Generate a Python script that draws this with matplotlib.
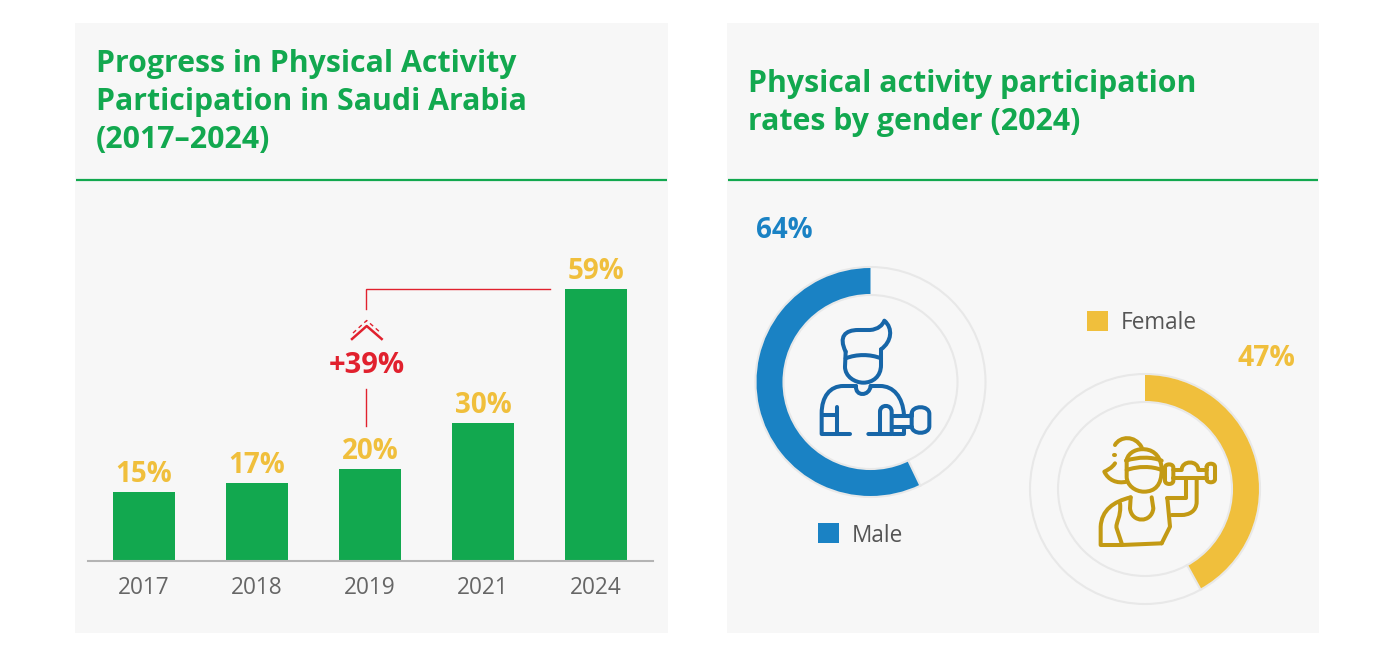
import math

import matplotlib
matplotlib.use("Agg")
from matplotlib import pyplot as plt
from matplotlib.patches import Rectangle, Circle, PathPatch
from matplotlib.path import Path

plt.rcParams['font.family'] = ['Open Sans', 'DejaVu Sans']

years = ['2017', '2018', '2019', '2021', '2024']
participation = [15, 17, 20, 30, 59]
increase_label = '+39%'

genders = ['Male', 'Female']
gender_rates = [64, 47]
ring_full_scale = 112

title_left = ['Progress in Physical Activity', 'Participation in Saudi Arabia', '(2017–2024)']
title_right = ['Physical activity participation', 'rates by gender (2024)']

GREEN = '#12A84F'
YELLOW = '#F0BF3C'
BLUE = '#1A82C4'
RED = '#E1212E'
PANEL = '#F7F7F7'
TRACK = '#E8E8E8'
W, H = 1384, 652

fig = plt.figure(figsize=(W / 100, H / 100), dpi=100, facecolor='white')


def px_axes(x0, y0, x1, y1):
    # axes placed by pixel box, y counted from the top of the figure
    return fig.add_axes([x0 / W, 1 - y1 / H, (x1 - x0) / W, (y1 - y0) / H])


bg = px_axes(0, 0, W, H)
bg.set_xlim(0, W)
bg.set_ylim(H, 0)
bg.axis('off')

# panels with the green rule under each heading
for x0, x1 in [(75, 668), (727, 1319)]:
    bg.add_patch(Rectangle((x0, 23), x1 - x0, 610, fc=PANEL, ec='none'))
    bg.plot([x0 + 1, x1 - 1], [180, 180], color=GREEN, lw=1.6, solid_capstyle='butt')

for i, line in enumerate(title_left):
    bg.text(95.5, 72 + i * 38, line, color=GREEN, fontsize=21.8, fontweight='bold', va='baseline')
for i, line in enumerate(title_right):
    bg.text(747.5, 92 + i * 38, line, color=GREEN, fontsize=21.8, fontweight='bold', va='baseline')

# bar chart
ax = px_axes(87.5, 192.2, 652.5, 561)
ax.patch.set_visible(False)
bars = ax.bar(range(len(years)), participation, width=0.557, color=GREEN)
ax.set_xlim(-0.5, 4.5)
ax.set_ylim(0, 80)
ax.set_yticks([])
ax.set_xticks(range(len(years)))
ax.set_xticklabels(years, fontsize=16.3, color='#666666')
ax.tick_params(axis='x', length=0, pad=11)
for s in ['top', 'left', 'right']:
    ax.spines[s].set_visible(False)
ax.spines['bottom'].set_color('#B4B4B4')
ax.spines['bottom'].set_linewidth(1.5)
for i, v in enumerate(participation):
    ax.annotate(f'{v}%', (i, v), xytext=(0, 2), textcoords='offset points', ha='center',
                va='bottom', color=YELLOW, fontsize=20, fontweight='bold')

# bracket from 2019 up and across to 2024
bg.plot([366, 366, 550], [309, 289, 289], color=RED, lw=1, solid_joinstyle='miter')
bg.plot([366, 366], [389, 426], color=RED, lw=1)
bg.plot([352, 366.7, 381.7], [339, 326, 339], color=RED, lw=1.8)
bg.plot([353, 366.7, 381], [333, 320.5, 333], color=RED, lw=1, ls=(0, (3, 2.5)))
bg.text(366.5, 373, increase_label, color=RED, fontsize=21, fontweight='bold', ha='center', va='baseline')


def donut(cx, cy, value, color, counterclock):
    R = 125
    a = px_axes(cx - R, cy - R, cx + R, cy + R)
    a.patch.set_visible(False)
    a.pie([value, ring_full_scale - value], colors=[color, 'none'], startangle=90,
          counterclock=counterclock, radius=114, wedgeprops=dict(width=27, linewidth=0))
    a.set_xlim(-R, R)
    a.set_ylim(-R, R)
    a.add_patch(Circle((0, 0), 115, fc='none', ec=TRACK, lw=1.5, zorder=0))
    a.add_patch(Circle((0, 0), 87, fc='none', ec=TRACK, lw=1.5, zorder=3))
    # thin grey edge closing the coloured arc
    sweep = math.radians(value / ring_full_scale * 360)
    sx = math.sin(sweep) * (-1 if counterclock else 1)
    sy = math.cos(sweep)
    a.plot([87 * sx, 115 * sx], [87 * sy, 115 * sy], color=TRACK, lw=1.5, zorder=3)


donut(870.5, 382, gender_rates[0], BLUE, True)
donut(1145, 489, gender_rates[1], YELLOW, False)

bg.text(756, 238, f'{gender_rates[0]}%', color=BLUE, fontsize=20, fontweight='bold', va='baseline')
bg.text(1237, 366, f'{gender_rates[1]}%', color=YELLOW, fontsize=20.3, fontweight='bold', va='baseline')

bg.add_patch(Rectangle((818, 523), 21, 20, fc=BLUE, ec='none'))
bg.text(852, 536, genders[0], color='#555555', fontsize=16.3, va='center')
bg.add_patch(Rectangle((1087, 311), 21, 20, fc=YELLOW, ec='none'))
bg.text(1121, 323, genders[1], color='#555555', fontsize=16.3, va='center')


def icon(outlines, ox, oy, color):
    # outlines are written at 3x scale as M/L/C path strings
    for d in outlines:
        t = d.split()
        verts, codes = [], []
        i = 0
        while i < len(t):
            c = t[i]
            n = {'M': 1, 'L': 1, 'C': 3}[c]
            code = {'M': Path.MOVETO, 'L': Path.LINETO, 'C': Path.CURVE4}[c]
            for k in range(n):
                verts.append((ox + float(t[i + 1 + 2 * k]) / 3, oy + float(t[i + 2 + 2 * k]) / 3))
                codes.append(code)
            i += 1 + 2 * n
        bg.add_patch(PathPatch(Path(verts, codes), fc='none', ec=color, lw=2.9,
                               capstyle='round', joinstyle='round'))


def capsule(x0, y0, x1, y1):
    r = (x1 - x0) / 2
    return (f'M {x0} {y0 + r} C {x0} {y0} {x1} {y0} {x1} {y0 + r} L {x1} {y1 - r} '
            f'C {x1} {y1} {x0} {y1} {x0} {y1 - r} L {x0} {y0 + r}')


male_icon = [
    'M 197 215 C 175 170 195 150 235 150 L 270 150 C 295 148 308 135 313 122 C 340 145 335 185 303 208',
    'M 197 235 C 230 222 270 222 303 235',
    'M 197 215 L 195 260 C 195 290 225 308 250 308 C 278 308 303 290 303 255 L 303 208',
    'M 228 318 C 225 350 268 350 272 318',
    'M 228 318 L 190 318 C 150 318 125 350 125 400 L 125 462 L 210 462',
    'M 125 405 L 172 405',
    'M 172 380 L 172 462',
    'M 237 462 L 238 462',
    'M 265 462 L 300 462 L 300 395 C 300 372 335 372 335 395 L 335 462 L 300 462',
    'M 272 318 L 300 318 C 340 318 368 350 372 405',
    'M 335 408 L 395 408',
    'M 335 440 L 395 440',
    'M 372 440 L 372 462 L 340 462',
    capsule(395, 375, 448, 465),
]
female_icon = [
    'M 165 105 C 180 78 225 75 245 112',
    'M 163 135 L 164 135',
    'M 165 160 C 155 175 142 180 133 185 C 145 210 170 222 200 215',
    'M 200 150 C 205 125 235 115 255 118 C 285 120 305 145 305 180',
    'M 198 152 C 235 140 275 140 305 152',
    'M 200 180 C 235 168 275 168 305 180',
    'M 200 150 L 200 200 C 200 225 225 245 252 245 C 285 245 305 225 305 180',
    capsule(315, 160, 340, 225),
    capsule(440, 158, 465, 220),
    'M 340 180 L 365 180 C 365 150 415 150 415 180 L 440 180',
    'M 340 205 L 440 205',
    'M 322 265 L 378 265 L 378 205',
    'M 410 205 L 410 275 C 410 305 385 315 365 315 L 335 315',
    'M 212 262 L 210 295 C 215 340 275 340 280 295 L 275 262',
    'M 212 262 C 160 275 125 300 122 350 L 122 405 L 185 405 L 305 400',
    'M 180 280 C 185 320 165 340 170 355 L 185 400',
    'M 322 265 L 330 350 L 305 400',
]
icon(male_icon, 780, 280, '#1766A8')
icon(female_icon, 1060, 410, '#C39A14')

fig.savefig('out.png', dpi=100)
